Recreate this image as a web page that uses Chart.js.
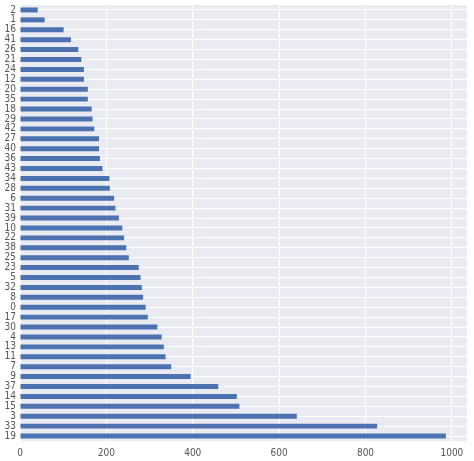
<!DOCTYPE html>
<html>
<head>
<meta charset="utf-8">
<script src="https://cdn.jsdelivr.net/npm/chart.js@4/dist/chart.umd.min.js"></script>
<style>
  html, body { margin: 0; padding: 0; background: #fff; }
</style>
</head>
<body>
<canvas id="myChart" width="474" height="461"></canvas>
<script>
// categories from top to bottom
let labels1 = ['2','1','16','41','26','21','24','12','20','35','18','29','42','27','40',
               '36','43','34','28','6','31','39','10','22','38','25','23','5','32',
               '8','0','17','30','4','13','11','7','9','37','14','15','3','33','19'];

let counts = [41, 57, 101, 118, 135, 142, 148, 148, 157, 157, 166, 168, 172, 183, 183,
              185, 191, 207, 208, 218, 221, 229, 237, 241, 246, 252, 275, 279, 282,
              285, 291, 296, 318, 328, 333, 337, 350, 395, 459, 502, 508, 641, 827, 986];

let xTicks = [0, 200, 400, 600, 800, 1000];

const bgPlugin = {
    id: 'bg',
    beforeDraw(chart) {
        const a = chart.chartArea;
        const ctx = chart.ctx;
        ctx.save();
        ctx.fillStyle = '#EAEAF2';
        ctx.fillRect(a.left, a.top, a.right - a.left, a.bottom - a.top);
        ctx.restore();
    }
};

const tickFont = { family: "'Liberation Sans Narrow', 'DejaVu Sans Condensed', 'Liberation Sans', sans-serif", size: 10 };

let ctx1 = document.getElementById("myChart").getContext('2d');
let chart1 = new Chart(ctx1, {
    type: 'bar',
    data: {
        labels: labels1,
        datasets: [{
            data: counts,
            backgroundColor: '#4C72B0',
            borderWidth: 0,
            barPercentage: 0.5,
            categoryPercentage: 1.0
        }]
    },
    plugins: [bgPlugin],
    options: {
        indexAxis: 'y',
        responsive: false,
        animation: false,
        layout: { padding: { left: 0, top: 5, right: 7, bottom: 0 } },
        plugins: {
            legend: { display: false },
            tooltip: { enabled: false }
        },
        scales: {
            x: {
                min: 0,
                max: 1035,
                afterBuildTicks(scale) {
                    scale.ticks = xTicks.map(v => ({ value: v }));
                },
                afterFit(scale) {
                    scale.height = 20;
                    scale.paddingLeft = 0;
                    scale.paddingRight = 0;
                },
                grid: { color: '#FFFFFF', lineWidth: 1, drawTicks: false },
                border: { display: false },
                ticks: {
                    color: '#555555', font: tickFont, padding: 6, maxRotation: 0,
                    callback: v => String(v)
                }
            },
            y: {
                afterFit(scale) {
                    scale.width = 20;
                    scale.paddingTop = 0;
                    scale.paddingBottom = 0;
                },
                grid: { color: '#FFFFFF', lineWidth: 1, drawTicks: false, offset: false },
                border: { display: false },
                ticks: { color: '#555555', font: tickFont, padding: 4, autoSkip: false }
            }
        }
    }
});
</script>
</body>
</html>
